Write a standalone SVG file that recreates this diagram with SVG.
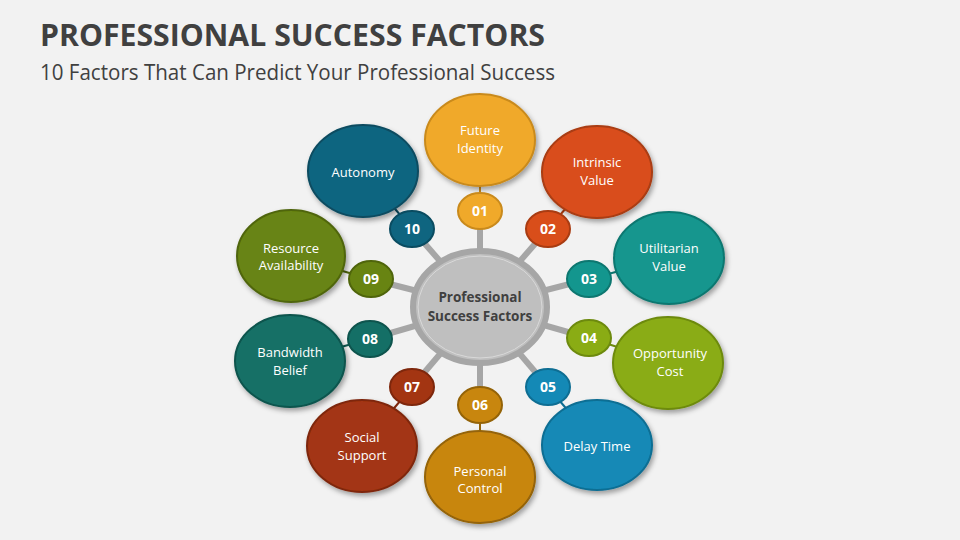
<svg xmlns="http://www.w3.org/2000/svg" width="960" height="540" viewBox="0 0 960 540">
<defs>
<filter id="sh" x="-30%" y="-30%" width="160%" height="160%"><feDropShadow dx="2" dy="3" stdDeviation="2.5" flood-color="#000" flood-opacity="0.35"/></filter>
<style>
.t{font-family:"Open Sans","Liberation Sans",sans-serif;fill:#fff;font-size:13px;text-anchor:middle}
.n{font-family:"Open Sans","Liberation Sans",sans-serif;fill:#fff;font-size:14px;font-weight:bold;text-anchor:middle}
.big{stroke-width:2;filter:url(#sh)}
.sm{stroke-width:2}
.spoke{stroke:#a6a6a6;stroke-width:6}
</style>
</defs>
<rect width="960" height="540" fill="#f2f2f2"/>
<text x="40" y="46" font-family="Open Sans, Liberation Sans, sans-serif" font-weight="bold" font-size="31" fill="#404040" textLength="505" lengthAdjust="spacingAndGlyphs">PROFESSIONAL SUCCESS FACTORS</text>
<text x="40" y="80" font-family="Open Sans, Liberation Sans, sans-serif" font-size="21" fill="#404040" textLength="515" lengthAdjust="spacingAndGlyphs">10 Factors That Can Predict Your Professional Success</text>
<g id="connectors">
<line class="spoke" x1="480" y1="307" x2="480" y2="211"/>
<line class="spoke" x1="480" y1="307" x2="548" y2="229"/>
<line class="spoke" x1="480" y1="307" x2="589" y2="279"/>
<line class="spoke" x1="480" y1="307" x2="589" y2="338"/>
<line class="spoke" x1="480" y1="307" x2="548" y2="387"/>
<line class="spoke" x1="480" y1="307" x2="480" y2="405"/>
<line class="spoke" x1="480" y1="307" x2="412" y2="387"/>
<line class="spoke" x1="480" y1="307" x2="370" y2="339"/>
<line class="spoke" x1="480" y1="307" x2="370" y2="279"/>
<line class="spoke" x1="480" y1="307" x2="412" y2="229"/>
<g stroke-width="2">
<line x1="480" y1="211" x2="480" y2="140" stroke="#c98a1c"/>
<line x1="548" y1="229" x2="597" y2="172" stroke="#a93c12"/>
<line x1="589" y1="279" x2="669" y2="258" stroke="#0d7770"/>
<line x1="589" y1="338" x2="668" y2="363" stroke="#6d8a0e"/>
<line x1="548" y1="387" x2="597" y2="445" stroke="#0e6e93"/>
<line x1="480" y1="405" x2="480" y2="477" stroke="#946307"/>
<line x1="412" y1="387" x2="362" y2="446" stroke="#7e270c"/>
<line x1="370" y1="339" x2="290" y2="361" stroke="#0e544d"/>
<line x1="370" y1="279" x2="291" y2="256" stroke="#4f650b"/>
<line x1="412" y1="229" x2="363" y2="171" stroke="#0a4c61"/>
</g>
</g>
<g id="center">
<ellipse cx="480" cy="307" rx="67" ry="56" fill="#bfbfbf" stroke="#a6a6a6" stroke-width="6"/>
<ellipse cx="480" cy="307" rx="62" ry="51" fill="none" stroke="#d9d9d9" stroke-width="1"/>
<text x="480" y="302" text-anchor="middle" font-family="Open Sans, Liberation Sans, sans-serif" font-weight="bold" font-size="13.5" fill="#404040">Professional</text>
<text x="480" y="321" text-anchor="middle" font-family="Open Sans, Liberation Sans, sans-serif" font-weight="bold" font-size="13.5" fill="#404040">Success Factors</text>
</g>
<g id="n01">
<ellipse class="big" cx="480" cy="140" rx="55" ry="46" fill="#f0a92a" stroke="#c98a1c"/>
<text class="t" x="480" y="135">Future</text><text class="t" x="480" y="153">Identity</text>
<ellipse class="sm" cx="480" cy="211" rx="22" ry="18" fill="#f0a92a" stroke="#c98a1c"/>
<text class="n" x="480" y="216">01</text>
</g>
<g id="n02">
<ellipse class="big" cx="597" cy="172" rx="55" ry="46" fill="#d94e1a" stroke="#a93c12"/>
<text class="t" x="597" y="167">Intrinsic</text><text class="t" x="597" y="185">Value</text>
<ellipse class="sm" cx="548" cy="229" rx="22" ry="18" fill="#d94e1a" stroke="#a93c12"/>
<text class="n" x="548" y="234">02</text>
</g>
<g id="n03">
<ellipse class="big" cx="669" cy="258" rx="55" ry="46" fill="#13968e" stroke="#0d7770"/>
<text class="t" x="669" y="253">Utilitarian</text><text class="t" x="669" y="271">Value</text>
<ellipse class="sm" cx="589" cy="279" rx="22" ry="18" fill="#13968e" stroke="#0d7770"/>
<text class="n" x="589" y="284">03</text>
</g>
<g id="n04">
<ellipse class="big" cx="668" cy="363" rx="55" ry="46" fill="#8aac14" stroke="#6d8a0e"/>
<text class="t" x="670" y="358">Opportunity</text><text class="t" x="670" y="376">Cost</text>
<ellipse class="sm" cx="589" cy="338" rx="22" ry="18" fill="#8aac14" stroke="#6d8a0e"/>
<text class="n" x="589" y="343">04</text>
</g>
<g id="n05">
<ellipse class="big" cx="597" cy="445" rx="55" ry="45" fill="#1489b6" stroke="#0e6e93"/>
<text class="t" x="597" y="451">Delay Time</text>
<ellipse class="sm" cx="548" cy="387" rx="22" ry="18" fill="#1489b6" stroke="#0e6e93"/>
<text class="n" x="548" y="392">05</text>
</g>
<g id="n06">
<ellipse class="big" cx="480" cy="477" rx="55" ry="46" fill="#c8860e" stroke="#946307"/>
<text class="t" x="480" y="476">Personal</text><text class="t" x="480" y="493">Control</text>
<ellipse class="sm" cx="480" cy="405" rx="22" ry="18" fill="#c8860e" stroke="#946307"/>
<text class="n" x="480" y="410">06</text>
</g>
<g id="n07">
<ellipse class="big" cx="362" cy="446" rx="55" ry="46" fill="#a33512" stroke="#7e270c"/>
<text class="t" x="362" y="442">Social</text><text class="t" x="362" y="460">Support</text>
<ellipse class="sm" cx="412" cy="387" rx="22" ry="18" fill="#a33512" stroke="#7e270c"/>
<text class="n" x="412" y="392">07</text>
</g>
<g id="n08">
<ellipse class="big" cx="290" cy="361" rx="55" ry="46" fill="#146f66" stroke="#0e544d"/>
<text class="t" x="290" y="357">Bandwidth</text><text class="t" x="290" y="375">Belief</text>
<ellipse class="sm" cx="370" cy="339" rx="22" ry="18" fill="#146f66" stroke="#0e544d"/>
<text class="n" x="370" y="344">08</text>
</g>
<g id="n09">
<ellipse class="big" cx="291" cy="256" rx="54" ry="46" fill="#688412" stroke="#4f650b"/>
<text class="t" x="291" y="253">Resource</text><text class="t" x="291" y="270">Availability</text>
<ellipse class="sm" cx="371" cy="279" rx="22" ry="18" fill="#688412" stroke="#4f650b"/>
<text class="n" x="371" y="284">09</text>
</g>
<g id="n10">
<ellipse class="big" cx="363" cy="171" rx="55" ry="46" fill="#0f6580" stroke="#0a4c61"/>
<text class="t" x="363" y="177">Autonomy</text>
<ellipse class="sm" cx="412" cy="229" rx="22" ry="18" fill="#0f6580" stroke="#0a4c61"/>
<text class="n" x="412" y="234">10</text>
</g>
</svg>
